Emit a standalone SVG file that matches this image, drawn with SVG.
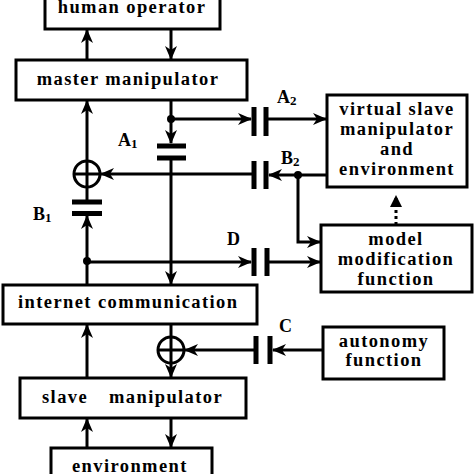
<svg xmlns="http://www.w3.org/2000/svg" width="474" height="474" viewBox="0 0 474 474">
<style>
.box{fill:#fff;stroke:#000;stroke-width:3}
.ln{fill:none;stroke:#000;stroke-width:3}
.arr{marker-end:url(#ah)}
.dot{stroke:none;fill:#000}
.pl{fill:#000}
.t{font-family:"Liberation Serif","Times New Roman",serif;font-weight:bold;font-size:18.5px;letter-spacing:1.4px;fill:#000}
.m{text-anchor:middle}
.lb{font-family:"Liberation Serif","Times New Roman",serif;font-weight:bold;font-size:18px;fill:#000}
.sub{font-size:13px}
</style>
<defs>
<marker id="ah" viewBox="0 0 14 12" refX="13" refY="6" markerWidth="14" markerHeight="12" markerUnits="userSpaceOnUse" orient="auto">
<path d="M0,0 L14,6 L0,12 L4,6 z" fill="#000"/>
</marker>
<marker id="tri" viewBox="0 0 12 12" refX="11" refY="6" markerWidth="12" markerHeight="12" markerUnits="userSpaceOnUse" orient="auto">
<path d="M0,0 L12,6 L0,12 z" fill="#000"/>
</marker>
</defs>
<rect width="474" height="474" fill="#fff"/>

<g id="connectors">
<line class="ln arr" x1="87" y1="60" x2="87" y2="30"/>
<line class="ln arr" x1="171" y1="29" x2="171" y2="59"/>
<line class="ln" x1="171" y1="100" x2="171" y2="119"/>
<line class="ln arr" x1="171" y1="119" x2="171" y2="143"/>
<line class="ln arr" x1="171" y1="160" x2="171" y2="284"/>
<line class="ln arr" x1="171" y1="119" x2="251" y2="119"/>
<line class="ln arr" x1="268" y1="119" x2="326" y2="119"/>
<line class="ln arr" x1="327" y1="175" x2="269" y2="175"/>
<line class="ln arr" x1="252" y1="174" x2="101" y2="174"/>
<line class="ln arr" x1="87" y1="161" x2="87" y2="101"/>
<line class="ln" x1="87" y1="187" x2="87" y2="201"/>
<line class="ln arr" x1="87" y1="261" x2="87" y2="216"/>
<line class="ln" x1="87" y1="261" x2="87" y2="285"/>
<line class="ln arr" x1="87" y1="262" x2="251" y2="262"/>
<line class="ln arr" x1="269" y1="262" x2="320" y2="262"/>
<polyline class="ln arr" points="298,175 298,242 320,242"/>
<line class="ln" x1="396" y1="225" x2="396" y2="196" stroke-dasharray="3,3" marker-end="url(#tri)"/>
<line class="ln arr" x1="87" y1="378" x2="87" y2="325"/>
<line class="ln" x1="171" y1="324" x2="171" y2="337"/>
<line class="ln arr" x1="171" y1="363" x2="171" y2="377"/>
<line class="ln arr" x1="323" y1="350" x2="273" y2="350"/>
<line class="ln arr" x1="254" y1="350" x2="185" y2="350"/>
<line class="ln arr" x1="87" y1="448" x2="87" y2="419"/>
<line class="ln arr" x1="171" y1="418" x2="171" y2="447"/>
<circle class="dot" cx="171" cy="119" r="4"/>
<circle class="dot" cx="298" cy="175" r="4"/>
<circle class="dot" cx="87" cy="261" r="4"/>
<!-- capacitors -->
<rect class="pl" x="157" y="143.5" width="29" height="5"/>
<rect class="pl" x="157" y="155.5" width="29" height="5"/>
<rect class="pl" x="72" y="199.5" width="30" height="5"/>
<rect class="pl" x="72" y="211" width="30" height="5"/>
<rect class="pl" x="251.5" y="107" width="5" height="29"/>
<rect class="pl" x="263.5" y="107" width="5" height="29"/>
<rect class="pl" x="251.5" y="161" width="5" height="28"/>
<rect class="pl" x="263.5" y="161" width="5" height="28"/>
<rect class="pl" x="251.5" y="248" width="5" height="28"/>
<rect class="pl" x="264.5" y="248" width="5" height="28"/>
<rect class="pl" x="253.5" y="336" width="5" height="28"/>
<rect class="pl" x="267.5" y="336" width="5" height="28"/>
<!-- summing junctions -->
<circle class="ln" cx="87" cy="174" r="13" stroke-width="2.5"/>
<line class="ln" x1="74" y1="174" x2="100" y2="174" stroke-width="2.5"/>
<line class="ln" x1="87" y1="161" x2="87" y2="187" stroke-width="2.5"/>
<circle class="ln" cx="171" cy="350" r="13" stroke-width="2.5"/>
<line class="ln" x1="158" y1="350" x2="184" y2="350" stroke-width="2.5"/>
<line class="ln" x1="171" y1="337" x2="171" y2="363" stroke-width="2.5"/>
<!-- labels -->
<text class="lb" x="118" y="146">A<tspan class="sub" dy="2">1</tspan></text>
<text class="lb" x="277" y="103">A<tspan class="sub" dy="2">2</tspan></text>
<text class="lb" x="33" y="220">B<tspan class="sub" dy="2">1</tspan></text>
<text class="lb" x="281" y="164">B<tspan class="sub" dy="2">2</tspan></text>
<text class="lb" x="227" y="245">D</text>
<text class="lb" x="279" y="332">C</text>
</g>

<g id="human-operator">
<rect class="box" x="45" y="-5" width="175" height="34"/>
<text class="t m" x="132" y="13">human operator</text>
</g>
<g id="master-manipulator">
<rect class="box" x="16" y="60" width="231" height="40"/>
<text class="t m" x="128" y="85">master manipulator</text>
</g>
<g id="virtual-slave">
<rect class="box" x="327" y="95" width="140" height="92"/>
<text class="t m" x="397" y="115">virtual slave</text>
<text class="t m" x="397" y="135">manipulator</text>
<text class="t m" x="397" y="155">and</text>
<text class="t m" x="397" y="175">environment</text>
</g>
<g id="model-modification">
<rect class="box" x="321" y="225" width="151" height="67"/>
<text class="t m" x="396" y="245">model</text>
<text class="t m" x="396" y="265">modification</text>
<text class="t m" x="396" y="285">function</text>
</g>
<g id="internet-communication">
<rect class="box" x="3" y="285" width="254" height="39"/>
<text class="t" x="18" y="308">internet communication</text>
</g>
<g id="autonomy-function">
<rect class="box" x="323" y="327" width="121" height="52"/>
<text class="t m" x="384" y="347">autonomy</text>
<text class="t m" x="384" y="366">function</text>
</g>
<g id="slave-manipulator">
<rect class="box" x="20" y="378" width="226" height="40"/>
<text class="t" x="42" y="403">slave</text>
<text class="t" x="109" y="403">manipulator</text>
</g>
<g id="environment">
<rect class="box" x="51" y="448" width="161" height="32"/>
<text class="t" x="72" y="472">environment</text>
</g>
</svg>
